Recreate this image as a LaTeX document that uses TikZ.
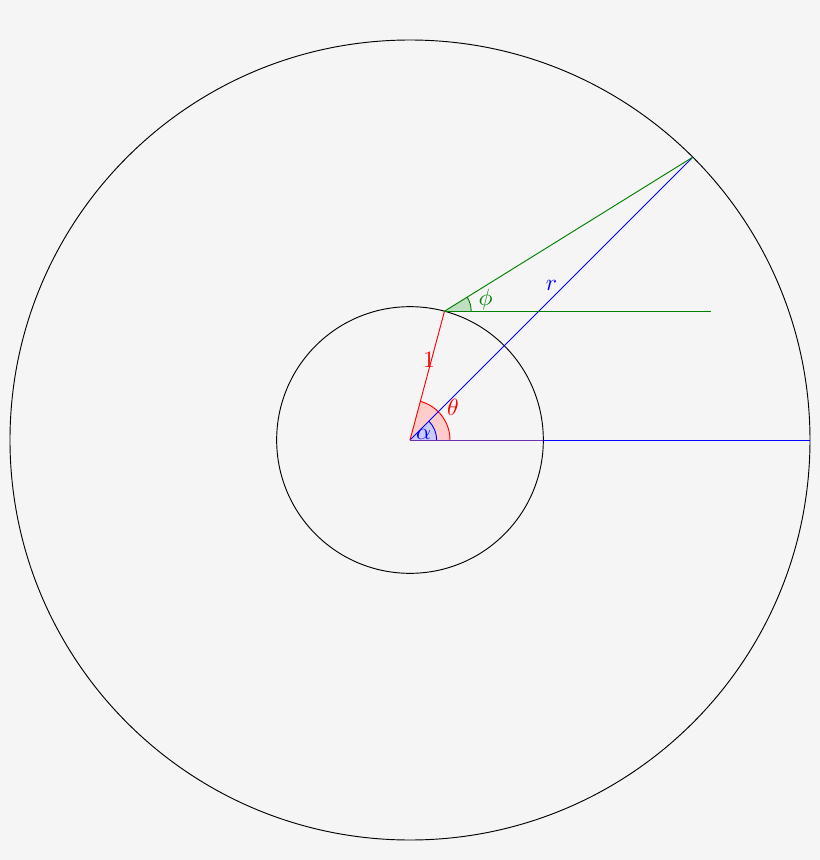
\documentclass[tikz,border=0pt]{standalone}
\usepackage{xcolor}
\usepackage{tikz}
\usetikzlibrary{angles, quotes, backgrounds, calc}
\definecolor{bgcol}{HTML}{F5F5F5}
\definecolor{mixcol}{HTML}{6A30B0}

\begin{document}
\begin{tikzpicture}[
	scale=2,
	ring/.style={draw, black},
	unitseg/.style={draw, red},
	radseg/.style={draw, blue},
	dirseg/.style={draw, green!50!black},
	thetaang/.style={draw=red, fill=red!20, angle radius=6mm, angle eccentricity=1.35, pic text options={text=red}},
	alphaang/.style={draw=blue, fill=blue!20, angle radius=4mm, angle eccentricity=0.55, pic text options={text=blue}},
	phiang/.style={draw=green!50!black, fill=green!50!black!25, angle radius=4mm, angle eccentricity=1.6, pic text options={text=green!50!black}}
	]

	\fill[bgcol] (-3.075,-3.15) rectangle (3.075,3.3);
	\useasboundingbox (-3.075,-3.15) rectangle (3.075,3.3);

	\coordinate (O) at (0,0);
	\coordinate (P) at (75:1);
	\coordinate (Q) at (45:3);
	\coordinate (B) at (1,0);
	\coordinate (A) at (3,0);
	\coordinate (H) at ($(P)+(2,0)$);

	% angle marks
	\pic[thetaang, pic text=$\theta$] {angle=B--O--P};
	\pic[alphaang, pic text=$\alpha$] {angle=B--O--Q};
	\pic[phiang, pic text=$\phi$] {angle=H--P--Q};

	\draw[ring] (O) circle (1);
	\draw[ring] (O) circle (3);

	\draw[radseg] (O) -- (A);
	\draw[radseg] (O) -- (Q) node[midway, above, text=blue] (rlab) {$r$};
	\draw[unitseg] (O) -- (P) node[pos=0.62, left=-5pt, text=red] (one) {$1$};
	\draw[mixcol] (O) -- (B);

	\draw[dirseg] (P) -- (Q);
	\draw[dirseg] (P) -- (H);

\end{tikzpicture}
\end{document}
